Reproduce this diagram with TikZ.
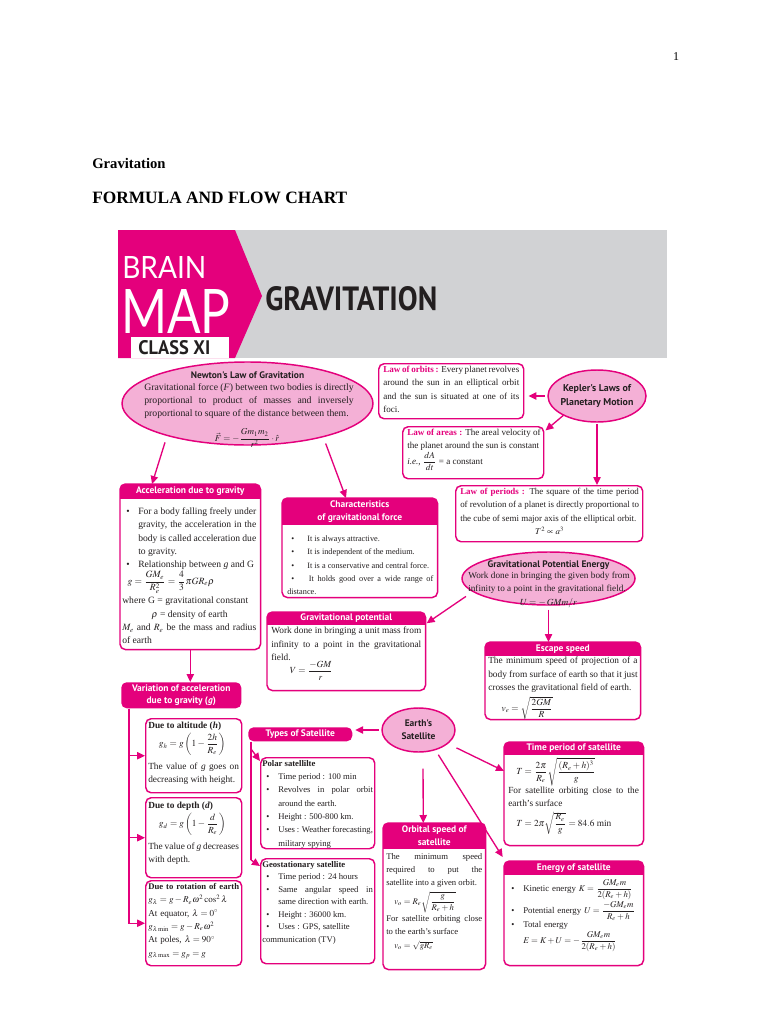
\documentclass[tikz,border=0pt]{standalone}
\usepackage{mathptmx}
\usepackage{fontspec}
\usepackage{amsmath}
\usepackage{graphicx}
\setmainfont{Liberation Serif}
\newfontfamily\hs{PT Sans}
\newfontfamily\hl{Lato}
\usetikzlibrary{shapes.geometric,arrows.meta}
\definecolor{mag}{RGB}{228,0,124}
\definecolor{pinkfill}{RGB}{244,176,214}
\definecolor{hgrey}{RGB}{209,210,212}
\definecolor{ink}{RGB}{35,31,32}
\newcommand\fs[1]{\fontsize{#1}{10}\selectfont\relpenalty=10000 \binoppenalty=10000 \hyphenpenalty=10000 \exhyphenpenalty=10000 }
\newcommand\bt{\fs{7}}
\newcommand\ttl{\hs\bfseries\fontsize{7.1}{9.5}\selectfont}
\newcommand\lbl[1]{\textcolor{mag}{\textbf{#1}}}
\newcommand\bitem[1][12pt]{\par\noindent\hangindent=#1\hangafter=1\makebox[#1][l]{\hspace{3pt}\textbullet}}
\tikzset{
  sz/.style 2 args={minimum width={#1*0.75pt}, minimum height={#2*0.75pt}},
  frame/.style={rectangle, inner sep=0pt, anchor=north west},
  txt/.style={anchor=north west, inner sep=0pt, align=justify, font=\bt, text=ink},
  ttl/.style={inner sep=0pt, align=center, font=\ttl, text=white},
  etxt/.style={inner sep=0pt, align=center, text=ink},
  oval/.style={ellipse, draw=mag, fill=pinkfill, line width=1.1pt, inner sep=0pt},
  bord/.style={draw=mag, line width=1.1pt, rounded corners=4pt},
  band/.style={fill=mag, rounded corners=4pt, text=white, font=\ttl, align=center, inner sep=0pt, anchor=north west},
  arr/.style={draw=mag, line width=1pt, -{Triangle[length=6pt,width=5.5pt]}},
  plain/.style={draw=mag, line width=1pt},
}
\newcommand\boxat[7]{%
  \node[frame, sz={#4}{#5}] (#1) at (#2,#3) {};
  \begin{scope}
    \clip[rounded corners=4pt] (#1.north west) rectangle (#1.south east);
    \fill[mag] (#1.north west) rectangle ([yshift={-#6*0.75pt}]#1.north east);
  \end{scope}
  \draw[bord] (#1.north west) rectangle (#1.south east);
  \node[ttl] (#1t) at ([yshift={-#6*0.375pt}]#1.north) {#7};
}
\begin{document}
\begin{tikzpicture}[x=0.75pt,y=-0.75pt]
\useasboundingbox (0,0) rectangle (768,1024);
\fill[white] (0,0) rectangle (768,1024);

% page texts
\node[font=\fontsize{9}{10}\selectfont, inner sep=0] (pg) at (676,57) {1};
\node[anchor=west, inner sep=0, font=\bfseries\fontsize{11}{13}\selectfont] (h1) at (92,163) {Gravitation};
\node[anchor=west, inner sep=0, font=\bfseries\fontsize{13}{15}\selectfont] (h2) at (92,198) {FORMULA AND FLOW CHART};

% header
\fill[hgrey] (118,230) rectangle (667,358);
\fill[mag] (118,230) -- (235,230) -- (262,296) -- (235,358) -- (118,358) -- cycle;
\fill[white] (131,337) rectangle (229,358);
\node[anchor=south west, inner sep=0, text=white] (brain) at (122,279) {\resizebox{63pt}{16.5pt}{\hl BRAIN}};
\node[anchor=south west, inner sep=0, text=white] (map) at (121,334) {\resizebox{82pt}{33pt}{\hl MAP}};
\node[anchor=south west, inner sep=0, text=ink] (cls) at (138,355) {\resizebox{54pt}{10.5pt}{\hs\bfseries CLASS XI}};
\node[anchor=south west, inner sep=0, text=ink] (hdr) at (265,311) {\resizebox{129pt}{18pt}{\hs\bfseries GRAVITATION}};

% Newton
\node[oval, sz={251}{83}] (newton) at (247.5,403.5) {};
\node[etxt, font=\ttl] (newtont) at (247.5,375) {Newton's Law of Gravitation};
\node[txt, anchor=north, text width=157pt, font=\fs{7.3}] (newtonb) at (249,383) {Gravitational force (\textit{F}) between two bodies is directly proportional to product of masses and inversely proportional to square of the distance between them.};
\node[etxt, font=\fs{6.8}] (newtonf) at (247,438) {$\vec{F}=-\dfrac{Gm_1m_2}{r^2}\cdot\hat{r}$};

% Kepler
\node[frame, bord, sz={145}{55}] (orbits) at (378,363) {};
\node[txt, text width=102pt, font=\fs{6.8}] (orbitsb) at (383,366) {\lbl{Law of orbits :} Every planet revolves around the sun in an elliptical orbit and the sun is situated at one of its foci.};
\node[oval, sz={98}{52}] (kepler) at (597,396) {};
\node[etxt, font=\ttl\fontsize{7.4}{9.8}\selectfont] (keplert) at (597,396) {Kepler's Laws of\\Planetary Motion};
\node[frame, bord, sz={141}{52}] (areas) at (402,426) {};
\node[txt, text width=100pt, font=\fs{6.8}] (areasb) at (407,429) {\lbl{Law of areas :} The areal velocity of the planet around the sun is constant\par\noindent \textit{i.e.}, $\dfrac{dA}{dt}$ = a constant};
\node[frame, bord, sz={187}{56}] (periods) at (455,485) {};
\node[txt, text width=134pt, font=\fs{6.7}] (periodsb) at (460,488) {\lbl{Law of periods :} The square of the time period of revolution of a planet is directly proportional to the cube of semi major axis of the elliptical orbit.\par{\centering $T^2\propto a^3$\par}};

% Acceleration due to gravity
\boxat{acc}{120}{484}{140}{165}{15}{Acceleration due to gravity}
\node[txt, text width=100.5pt, font=\fs{7.2}] (accb) at (122,501) {\bitem For a body falling freely under gravity, the acceleration in the body is called acceleration due to gravity.\bitem Relationship between \textit{g} and G\par\noindent\hspace*{4pt}$g=\dfrac{GM_e}{R_e^2}=\dfrac{4}{3}\pi GR_e\rho$\par\vspace{2pt}\noindent where G = gravitational constant\par\noindent\hspace*{22pt}$\rho$ = density of earth\par\noindent $M_e$ and $R_e$ be the mass and radius of earth};

% Characteristics
\boxat{char}{282}{498}{155}{99}{27}{Characteristics\\of gravitational force}
\node[txt, text width=109.5pt, font=\fs{6.2}] (charb) at (287,528) {\bitem[13.5pt] It is always attractive.\bitem[13.5pt] It is independent of the medium.\bitem[13.5pt] It is a conservative and central force.\bitem[13.5pt] It holds good over a wide range of distance.};

% Gravitational potential
\boxat{gp}{267}{612}{158}{78}{13}{Gravitational potential}
\node[txt, text width=112.5pt, font=\fs{7}] (gpb) at (271,627) {Work done in bringing a unit mass from infinity to a point in the gravitational field.\par\noindent\hspace*{14pt}$V=\dfrac{-GM}{r}$};

% Gravitational potential energy
\node[oval, sz={173}{53}] (gpe) at (548.5,578.5) {};
\node[etxt, font=\ttl] (gpet) at (548.5,565) {Gravitational Potential Energy};
\node[txt, anchor=north, text width=121pt, font=\fontsize{6.9}{9.3}\selectfont] (gpeb) at (549,572) {Work done in bringing the given body from infinity to a point in the gravitational field.};
\node[etxt, font=\fs{7}] (gpef) at (548.5,603) {$U=-\,GMm/r$};

% Escape speed
\boxat{esc}{485}{642}{155}{77}{14}{Escape speed}
\node[txt, text width=112pt] (escb) at (488,657) {The minimum speed of projection of a body from surface of earth so that it just crosses the gravitational field of earth.\par\vspace{2pt}\noindent\hspace*{10pt}$v_e=\sqrt{\dfrac{2GM}{R}}$};

% Variation of g
\node[band, sz={120}{26}] (var) at (121,682) {Variation of acceleration\\due to gravity (\textit{g})};
\node[frame, bord, sz={96}{74}] (alt) at (145,718) {};
\node[txt, text width=68pt] (altb) at (148,722) {\textbf{Due to altitude (\textit{h})}\par\vspace{1pt}\noindent\hspace*{8pt}$g_h=g\left(1-\dfrac{2h}{R_e}\right)$\par\vspace{4pt}\noindent The value of \textit{g} goes on decreasing with height.};
\node[frame, bord, sz={96}{80}] (depth) at (145,797) {};
\node[txt, text width=68pt] (depthb) at (148,802) {\textbf{Due to depth (\textit{d})}\par\vspace{1pt}\noindent\hspace*{8pt}$g_d=g\left(1-\dfrac{d}{R_e}\right)$\par\vspace{4pt}\noindent The value of \textit{g} decreases with depth.};
\node[frame, bord, sz={96}{85}] (rot) at (145,880) {};
\node[txt, text width=69pt, align=left, font=\fs{6.8}] (rotb) at (148,883) {\mbox{\fs{6.5}\textbf{Due to rotation of earth}}\par\noindent $g_\lambda=g-R_e\omega^2\cos^2\lambda$\par\noindent At equator, $\lambda=0^\circ$\par\noindent $g_{\lambda\,\mathrm{min}}=g-R_e\omega^2$\par\noindent At poles, $\lambda=90^\circ$\par\noindent $g_{\lambda\,\mathrm{max}}=g_p=g$};
\coordinate (vx) at (129,708);

% Earth's satellite
\node[oval, sz={73}{44}] (earth) at (418.5,730) {};
\node[etxt, font=\ttl] (eartht) at (418.5,730) {Earth's\\Satellite};
\node[band, sz={104}{14}] (types) at (248,727) {Types of Satellite};
\node[frame, bord, sz={114}{91}] (polar) at (260,757) {};
\node[txt, text width=83pt, font=\fs{6.5}] (polarb) at (262,760) {\textbf{Polar satellilte}\bitem Time period : 100 min\bitem Revolves in polar orbit around the earth.\bitem Height : 500-800 km.\bitem Uses : Weather forecasting,\newline\hspace*{12pt}military spying};
\node[frame, bord, sz={114}{105}] (geo) at (260,858) {};
\node[txt, text width=83pt, font=\fontsize{6.5}{9.4}\selectfont] (geob) at (262,861) {\textbf{Geostationary satellite}\bitem Time period : 24 hours\bitem Same angular speed in same direction with earth.\bitem Height : 36000 km.\bitem Uses : GPS, satellite\newline communication (TV)};
\coordinate (tx) at (251,749);
\coordinate (ty) at (251,860);

\boxat{orb}{383}{823}{102}{146}{26}{Orbital speed of\\satellite}
\node[txt, text width=72pt, font=\fs{6.5}] (orbb) at (386,853) {\makebox[\linewidth][s]{The minimum speed}\par\noindent\makebox[\linewidth][s]{required to put the}\par\noindent satellite into a given orbit.\par\vspace{2pt}\noindent\hspace*{6pt}$v_o=R_e\sqrt{\dfrac{g}{R_e+h}}$\par\vspace{1pt}\noindent For satellite orbiting close to the earth's surface\par\noindent\hspace*{6pt}$v_o=\sqrt{gR_e}$};

\boxat{time}{504}{742}{139}{103}{13}{Time period of satellite}
\node[txt, text width=98pt] (timeb) at (508,757) {\hspace*{6pt}$T=\dfrac{2\pi}{R_e}\sqrt{\dfrac{(R_e+h)^3}{g}}$\par\noindent For satellite orbiting close to the earth's surface\par\vspace{3pt}\noindent\hspace*{6pt}$T=2\pi\sqrt{\dfrac{R_e}{g}}=84.6$ min};

\boxat{energy}{504}{861}{139}{104}{14}{Energy of satellite}
\node[txt, text width=100pt, align=left, font=\fs{6.6}] (energyb) at (507,878) {\bitem[12pt]\mbox{Kinetic energy $K=\dfrac{GM_em}{2(R_e+h)}$}\bitem[12pt]\mbox{Potential energy $U=\dfrac{-GM_em}{R_e+h}$}\bitem[12pt]Total energy\par\noindent\hspace*{12pt}\mbox{$E=K+U=-\dfrac{GM_em}{2(R_e+h)}$}};

% connectors
\draw[arr, shorten <=5pt] (newton.202) -- ([xshift=24pt]acc.north west);
\draw[arr, shorten <=5pt] (newton.336) -- ([xshift=48pt]char.north west);
\draw[arr, shorten <=2pt, shorten >=3pt] (kepler.west) -- (kepler.west -| orbits.east);
\draw[arr, shorten >=1pt] (kepler.210) -- ([yshift=-4pt]areas.north east);
\draw[arr, shorten <=1pt] (kepler.south) -- (kepler.south |- periods.north);
\draw[arr, shorten <=6pt, shorten >=1pt] (gpe.190) -- ([yshift=-9pt]gp.north east);
\draw[arr, shorten <=3pt] (gpe.south) -- (gpe.south |- esc.north);
\draw[arr] (acc.south) -- (acc.south |- var.north);
\draw[arr] (var.south -| vx) |- (alt.west);
\draw[arr] (var.south -| vx) |- (depth.west);
\draw[arr] (var.south -| vx) |- (rot.west);
\draw[arr, shorten <=2pt, shorten >=2pt] (earth.west) -- (earth.west -| types.east);
\draw[plain] (types.south -| tx) -- (tx) -- (ty);
\draw[arr] (tx) -- ([yshift=-3pt]polar.north west);
\draw[arr] (ty) -- ([yshift=-6pt]geo.north west);
\draw[arr] ([xshift=3.4pt,yshift=-12pt]earth.south) -- ([xshift=-8.25pt]orb.north);
\draw[arr, shorten <=7pt] (earth.335) -- ([yshift=-21.75pt]time.north west);
\draw[arr, shorten <=4pt] (earth.310) -- ([xshift=-1pt,yshift=3pt]energy.north west);
\end{tikzpicture}
\end{document}
